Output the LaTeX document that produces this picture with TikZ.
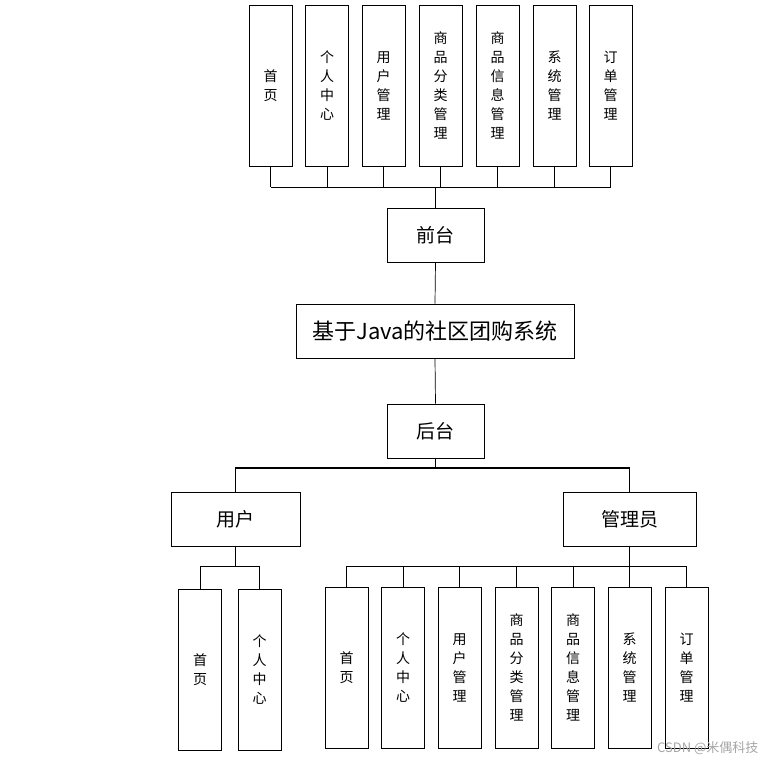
\documentclass[tikz,border=0pt]{standalone}
\usepackage{fontspec}
\setmainfont{Noto Sans CJK SC}
\begin{document}
\begin{tikzpicture}[x=1pt,y=-1pt,
  box/.style={draw,line width=0.8pt,minimum width=43pt,minimum height=161pt,inner sep=0pt,align=center,font=\fontsize{14}{19}\selectfont},
  hbox/.style={draw,line width=0.8pt,minimum height=54pt,inner sep=0pt,font=\fontsize{19}{22}\selectfont},
  ln/.style={line width=0.7pt}]
\useasboundingbox (0,0) rectangle (777,766);
% top
\foreach \n/\x/\t in {t1/270.5/首\\页, t2/327/个\\人\\中\\心, t3/383.5/用\\户\\管\\理, t4/440.5/商\\品\\分\\类\\管\\理, t5/497.5/商\\品\\信\\息\\管\\理, t6/554.5/系\\统\\管\\理, t7/610.5/订\\单\\管\\理}
  \node[box] (\n) at (\x,85.5) {\t};
\node[hbox,minimum width=97pt] (qt) at (435.5,235) {前台};
\node[hbox,minimum width=278pt,font=\fontsize{22}{24}\selectfont] (main) at (435,331) {基于Java的社区团购系统};
\node[hbox,minimum width=97pt] (ht) at (435.5,431) {后台};
\coordinate (b1) at (435.5,187);
\foreach \n in {t1,t2,t3,t4,t5,t6,t7} \draw[ln] (\n.south) -- (\n.south |- b1);
\draw[ln] (t1.south |- b1) -- (t7.south |- b1);
\draw[line width=1.2pt] (b1) -- (qt.north);
\draw[ln] (qt.south) -- (main.north);
\draw[ln] (main.south) -- (ht.north);
% second level
\node[hbox,minimum width=129pt] (yh) at (235.5,519) {用户};
\node[hbox,minimum width=133pt] (gly) at (629.5,519) {管理员};
\coordinate (b2) at (435.5,468);
\draw[line width=1.5pt] (ht.south) -- (b2);
\draw[line width=1.5pt] (yh.north) -- (yh.north |- b2) -- (gly.north |- b2) -- (gly.north);
% user children
\node[box] (u1) at (200,669.5) {首\\页};
\node[box] (u2) at (259.5,669.5) {个\\人\\中\\心};
\coordinate (b3) at (235.5,566);
\draw[ln] (yh.south) -- (b3);
\draw[ln] (u1.north) -- (u1.north |- b3) -- (u2.north |- b3) -- (u2.north);
% admin children
\foreach \n/\x/\t in {a1/346.5/首\\页, a2/403/个\\人\\中\\心, a3/459.5/用\\户\\管\\理, a4/516.5/商\\品\\分\\类\\管\\理, a5/573/商\\品\\信\\息\\管\\理, a6/629.5/系\\统\\管\\理, a7/686.5/订\\单\\管\\理}
  \node[box] (\n) at (\x,667.5) {\t};
\coordinate (b4) at (629.5,566);
\draw[ln] (gly.south) -- (b4);
\foreach \n in {a1,a2,a3,a4,a5,a6,a7} \draw[ln] (\n.north) -- (\n.north |- b4);
\draw[ln] (a1.north |- b4) -- (a7.north |- b4);
\node[text=black!35,font=\fontsize{13}{15}\selectfont,anchor=east] (wm) at (762,748) {CSDN @米偶科技};
\end{tikzpicture}
\end{document}
